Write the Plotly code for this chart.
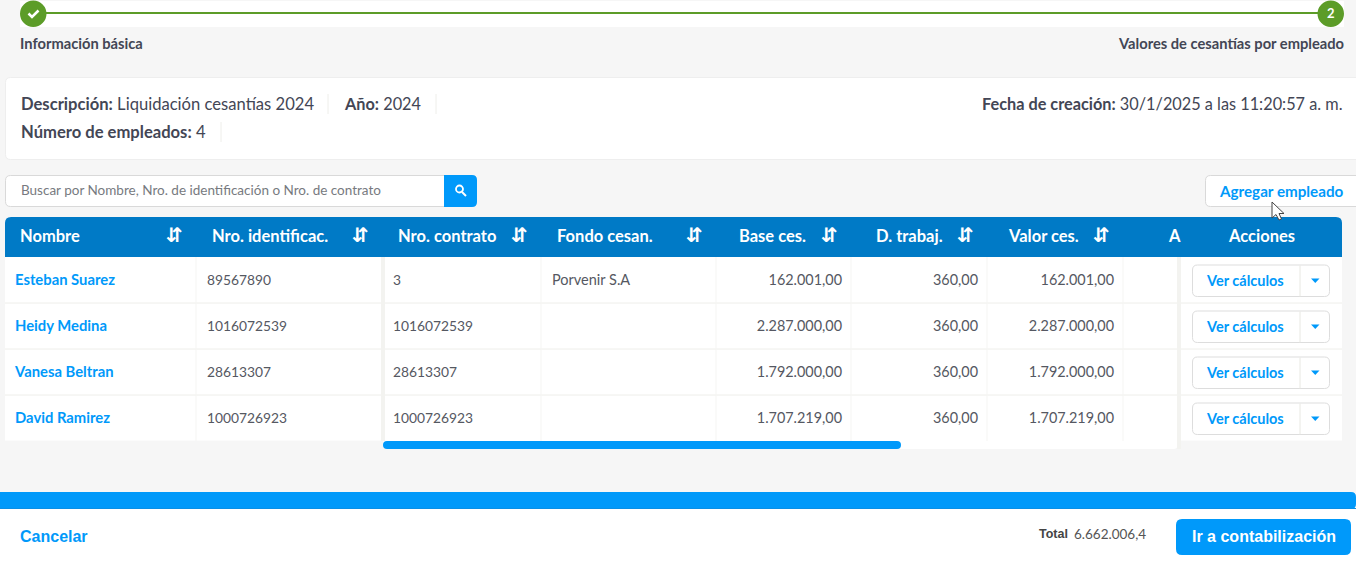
import plotly.graph_objects as go

# Table data
nombres = ["Esteban Suarez", "Heidy Medina", "Vanesa Beltran", "David Ramirez"]
identificaciones = ["89567890", "1016072539", "28613307", "1000726923"]
contratos = ["3", "1016072539", "28613307", "1000726923"]
fondos = ["Porvenir S.A", "", "", ""]
base_ces = ["162.001,00", "2.287.000,00", "1.792.000,00", "1.707.219,00"]
dias_trab = ["360,00", "360,00", "360,00", "360,00"]
valor_ces = ["162.001,00", "2.287.000,00", "1.792.000,00", "1.707.219,00"]
headers = ["Nombre", "Nro. identificac.", "Nro. contrato", "Fondo cesan.", "Base ces.", "D. trabaj.", "Valor ces."]
total = "6.662.006,4"

BLUE = "#0099fa"
HEADER = "#007ac6"
GREEN = "#5c9c28"
DARK = "#434655"
TEXT = "#555862"
LINE = "#eeeeea"
FAINT = "#f5f5f3"
FONT = "Lato"

# layout positions (px)
row_y = [280.5, 326.5, 372.5, 418.5]
text_y = [y + 1 for y in row_y]
header_x = [20, 212, 398, 557, 739, 876, 1008]
sort_x = [174, 360, 519, 694, 829, 965, 1101]
col_lines = [196, 541, 716, 851, 987, 1123]

fig = go.Figure()
shapes = []


def rounded(x0, y0, x1, y1, r=5, tl=True, tr=True, br=True, bl=True):
    a, b, c, d = [r if f else 0 for f in (tl, tr, br, bl)]
    return (f"M{x0 + a},{y0} L{x1 - b},{y0} Q{x1},{y0} {x1},{y0 + b} "
            f"L{x1},{y1 - c} Q{x1},{y1} {x1 - c},{y1} "
            f"L{x0 + d},{y1} Q{x0},{y1} {x0},{y1 - d} L{x0},{y0 + a} Q{x0},{y0} {x0 + a},{y0} Z")


def box(x0, y0, x1, y1, fill, line=None, r=0, **kw):
    shapes.append(dict(type="path", path=rounded(x0, y0, x1, y1, r, **kw), fillcolor=fill,
                       line=dict(color=line or fill, width=1 if line else 0)))


def seg(x0, y0, x1, y1, color=LINE, width=1):
    shapes.append(dict(type="line", x0=x0, y0=y0, x1=x1, y1=y1, line=dict(color=color, width=width)))


def text(x, y, s, size=14, color=TEXT, anchor="left", family=FONT):
    # annotation boxes carry a little padding, pull the text back onto its spot
    shift = {"left": -2, "right": 2, "center": 0}[anchor]
    fig.add_annotation(x=x, y=y, text=s, showarrow=False, xanchor=anchor, yanchor="middle",
                       xshift=shift, yshift=1,
                       font=dict(family=family, size=size, color=color))


def column(xs, ys, vals, color, pos, size=14, bold=False):
    fig.add_trace(go.Scatter(x=xs, y=ys, text=[f"<b>{v}</b>" if bold and v else v for v in vals],
                             mode="text", textposition=pos, hoverinfo="skip",
                             textfont=dict(family=FONT, size=size, color=color)))


# stepper
box(20, 1, 1344, 27, "#ffffff")
seg(33, 13, 1331, 13, GREEN, 2)
shapes.append(dict(type="circle", x0=20, y0=0.5, x1=46.5, y1=27, fillcolor=GREEN, line=dict(width=0)))
shapes.append(dict(type="circle", x0=1317.5, y0=0.5, x1=1344, y1=27, fillcolor=GREEN, line=dict(width=0)))
shapes.append(dict(type="path", path="M28.5,13.5 L32,17 L38.5,10.5", line=dict(color="#ffffff", width=2.5)))
text(1331, 13.5, "<b>2</b>", 13, "#ffffff", "center")
text(20, 43.5, "<b>Información básica</b>", 14.7, DARK)
text(1344, 43.5, "<b>Valores de cesantías por empleado</b>", 14.7, DARK, "right")

# info card
box(5.5, 77.5, 1370, 159.5, "#ffffff", "#eeeeee", 5)
text(21, 105, "<b>Descripción:</b> Liquidación cesantías 2024", 16.6, DARK)
text(344, 104, "<b>Año:</b> 2024", 16.3, DARK)
text(21, 133, "<b>Número de empleados:</b> 4", 16.6, DARK)
text(1343, 104, "<b>Fecha de creación:</b> 30/1/2025 a las 11:20:57 a. m.", 16.3, DARK, "right")
seg(328, 94, 328, 114)
seg(436, 94, 436, 114)
seg(221, 122, 221, 142)

# search + add button
box(5.5, 175.5, 450, 206.5, "#ffffff", "#d9d9d9", 5)
box(444, 175, 477, 207, BLUE, r=5, tl=False, bl=False)
shapes.append(dict(type="circle", x0=456, y0=185.5, x1=463, y1=192.5, line=dict(color="#ffffff", width=1.8)))
seg(462, 192, 466, 196, "#ffffff", 2)
text(21, 190.5, "Buscar por Nombre, Nro. de identificación o Nro. de contrato", 13.5, "#777a80")
box(1205.5, 175.5, 1370, 206.5, "#ffffff", "#d9d9d9", 5)
text(1219, 192, "<b>Agregar empleado</b>", 15.2, BLUE)

# table body
box(383, 257, 1178, 449, "#ffffff", r=5, tl=False, tr=False)
box(5, 257, 383, 440.5, "#ffffff")
box(1180, 257, 1342, 440.5, "#ffffff")
for y in row_y[:-1]:
    seg(5, y + 22.5, 1342, y + 22.5)
for x in col_lines:
    seg(x, 257, x, 441, FAINT)
shapes.append(dict(type="rect", x0=381, y0=257, x1=385, y1=441, fillcolor="#f3f3f0", line=dict(width=0)))
shapes.append(dict(type="rect", x0=1177, y0=257, x1=1181, y1=449, fillcolor="#f3f3f0", line=dict(width=0)))
box(383, 441, 901, 449, BLUE, r=4)

# table header
box(5, 217, 1342, 257, HEADER, r=6, bl=False, br=False)
for name, hx, sx in zip(headers, header_x, sort_x):
    text(hx, 236.5, f"<b>{name}</b>", 16.5, "#ffffff")
    text(sx, 235.5, "<b>⇵</b>", 20, "#ffffff", "center", "DejaVu Sans")
text(1174, 236.5, "<b>A</b>", 16.5, "#ffffff", "center")
text(1261, 236.5, "<b>Acciones</b>", 16.5, "#ffffff", "center")

# table cells
column([15] * 4, text_y, nombres, BLUE, "middle right", size=14.8, bold=True)
column([207] * 4, text_y, identificaciones, TEXT, "middle right", size=13.8)
column([393] * 4, text_y, contratos, TEXT, "middle right", size=13.8)
column([552] * 4, text_y, fondos, TEXT, "middle right", size=14.5)
column([842] * 4, text_y, base_ces, TEXT, "middle left", size=14.4)
column([978] * 4, text_y, dias_trab, TEXT, "middle left", size=14.4)
column([1114] * 4, text_y, valor_ces, TEXT, "middle left", size=14.4)

# row buttons
for y in row_y:
    box(1192.5, y - 15.5, 1329.5, y + 16, "#ffffff", "#dddddd", 5)
    seg(1300, y - 15, 1300, y + 16, "#e8e8e2")
    text(1245, y + 0.5, "<b>Ver cálculos</b>", 14.5, BLUE, "center")
    shapes.append(dict(type="path", path=f"M1311,{y - 2} L1319.5,{y - 2} L1315.25,{y + 2.5} Z",
                        fillcolor=BLUE, line=dict(width=0)))

# footer
box(-5, 492, 1356, 509, BLUE, r=5)
seg(0, 508.5, 1356, 508.5, "#0a8fe6", 1)
box(0, 509, 1356, 564, "#ffffff")
text(20, 537, "<b>Cancelar</b>", 16, BLUE, family="Liberation Sans")
text(1039, 535, "<b>Total</b>", 12.5, "#444444", family="Liberation Sans")
text(1074, 535, total, 13.5, "#555555")
box(1176, 519, 1351, 555, BLUE, r=6)
text(1263.5, 537, "<b>Ir a contabilización</b>", 16, "#ffffff", "center", "Liberation Sans")

# mouse pointer
shapes.append(dict(type="path",
                   path="M1272,202 L1272,218 L1276,214.5 L1279,220 L1281.5,219 L1279,213.5 L1284,213.5 Z",
                   fillcolor="#ffffff", line=dict(color="#444444", width=1)))

fig.update_layout(
    width=1356,
    height=564,
    margin=dict(l=0, r=0, t=0, b=0),
    paper_bgcolor="#f6f6f6",
    plot_bgcolor="#f6f6f6",
    showlegend=False,
    shapes=shapes,
    xaxis=dict(range=[0, 1356], visible=False, fixedrange=True),
    yaxis=dict(range=[564, 0], visible=False, fixedrange=True),
)
# shapes go below the cell text traces, annotations stay on top
fig.update_shapes(layer="below")

fig.write_html("out.html", config=dict(displayModeBar=False),
               post_script="document.body.style.margin='0';document.body.style.overflow='hidden';")
